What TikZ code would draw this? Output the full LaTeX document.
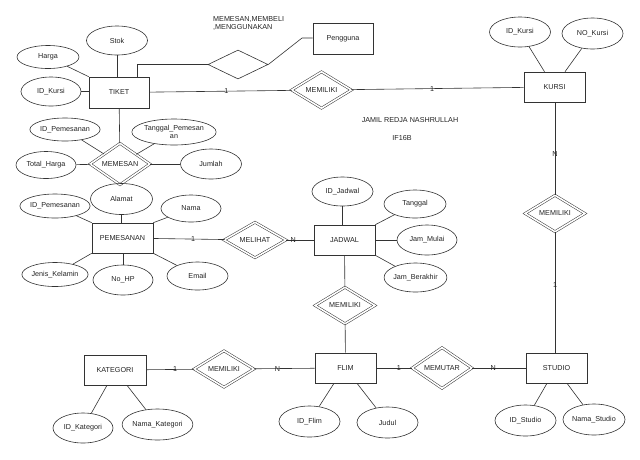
\documentclass[tikz,border=0pt]{standalone}
\usepackage{fontspec}
\setmainfont{Liberation Sans}
\usetikzlibrary{shapes.geometric}
\definecolor{ln}{HTML}{333333}
\definecolor{tx}{HTML}{222222}
\tikzset{
  every node/.style={font=\fontsize{7.2}{8.6}\selectfont, text=tx},
  ent/.style={draw=ln, line width=0.6pt, rectangle, minimum width=61pt, minimum height=30pt, inner sep=0pt},
  attr/.style={draw=ln, line width=0.6pt, ellipse, minimum width=61pt, minimum height=29pt, inner sep=0pt},
  rel/.style={draw=ln, line width=0.6pt, diamond, minimum width=60pt, minimum height=30pt, inner sep=0pt},
  drel/.style={rel, double=white, double distance=1.6pt, line width=0.5pt},
  conn/.style={draw=ln, line width=0.6pt},
  card/.style={inner sep=0.5pt}
}
\begin{document}
\begin{tikzpicture}[x=1pt,y=-1pt]
\useasboundingbox (0,0) rectangle (640,459);
% entities
\node[ent, minimum height=31pt, minimum width=60pt] (tiket) at (119,92.5) {TIKET};
\node[ent, minimum height=31pt, minimum width=60pt] (pengguna) at (343,38.5) {Pengguna};
\node[ent] (kursi) at (554.5,87) {KURSI};
\node[ent] (pemesanan) at (122.5,238) {PEMESANAN};
\node[ent] (jadwal) at (344.5,240) {JADWAL};
\node[ent, minimum width=62pt] (kategori) at (115,370) {KATEGORI};
\node[ent] (flim) at (345.5,368) {FLIM};
\node[ent] (studio) at (556.5,368) {STUDIO};
% relationships
\node[rel, minimum height=29pt] (beli) at (238,64.5) {};
\node[drel] (mem1) at (321.5,90) {MEMILIKI};
\node[drel] (memesan) at (120,164) {MEMESAN};
\node[drel, minimum height=29pt] (mem2) at (555,213.5) {MEMILIKI};
\node[drel, minimum width=62pt] (melihat) at (255,240) {MELIHAT};
\node[drel, minimum height=29pt] (mem3) at (345,305.5) {MEMILIKI};
\node[drel] (mem4) at (224,369) {MEMILIKI};
\node[drel] (memutar) at (442,368) {MEMUTAR};
% attributes
\node[attr] (stok) at (117,40.5) {Stok};
\node[attr, minimum width=62pt, minimum height=23pt] (harga) at (48,57) {Harga};
\node[attr, minimum width=60pt] (idkursi1) at (51,91.5) {ID\_Kursi};
\node[attr, minimum height=23pt] (idpem1) at (65,129.5) {ID\_Pemesanan};
\node[attr, minimum height=26pt, align=center, font=\fontsize{7.2}{7.6}\selectfont] (tglpem) at (174,132) {Tanggal\_Pemesan\\an};
\node[attr, minimum width=60pt, minimum height=27pt] (totalharga) at (46,165) {Total\_Harga};
\node[attr, minimum height=30pt] (jumlah) at (211,164) {Jumlah};
\node[attr, minimum height=30pt] (idkursi2) at (520,32) {ID\_Kursi};
\node[attr, minimum height=31pt] (nokursi) at (592.5,33.5) {NO\_Kursi};
\node[attr, minimum width=60pt, minimum height=24pt] (idpem2) at (55,206) {ID\_Pemesanan};
\node[attr, minimum width=62pt, minimum height=31pt] (alamat) at (121.5,199) {Alamat};
\node[attr, minimum width=60pt, minimum height=27pt] (nama) at (191,208.5) {Nama};
\node[attr, minimum width=60pt, minimum height=24pt] (jenis) at (55,274.5) {Jenis\_Kelamin};
\node[attr, minimum width=60pt, minimum height=30pt] (nohp) at (123,280) {No\_HP};
\node[attr, minimum height=28pt] (email) at (197.5,276) {Email};
\node[attr] (idjadwal) at (342.5,191.5) {ID\_Jadwal};
\node[attr, minimum width=62pt, minimum height=28pt] (tanggal) at (415,204) {Tanggal};
\node[attr, minimum width=60pt, minimum height=30pt] (jammulai) at (427,240) {Jam\_Mulai};
\node[attr] (jamberakhir) at (415.5,277.5) {Jam\_Berakhir};
\node[attr, minimum width=60pt, minimum height=30pt] (idkategori) at (83,428) {ID\_Kategori};
\node[attr, minimum height=31pt] (namakategori) at (157.5,424.5) {Nama\_Kategori};
\node[attr, minimum height=31pt] (idflim) at (309.5,421.5) {ID\_Flim};
\node[attr, minimum height=31pt] (judul) at (387.5,422.5) {Judul};
\node[attr, minimum height=31pt] (idstudio) at (525.5,420.5) {ID\_Studio};
\node[attr, minimum width=62pt, minimum height=31pt] (namastudio) at (594,419.5) {Nama\_Studio};
% free texts
\node[anchor=north west, align=left, inner sep=0pt, font=\fontsize{7.2}{8.4}\selectfont] (note) at (213,16) {MEMESAN,MEMBELI\\,MENGGUNAKAN};
\node (author) at (410,120) {JAMIL REDJA NASHRULLAH};
\node (kelas) at (402,138) {IF16B};
\coordinate (bend) at (302,38);
% TIKET connectors
\draw[conn] (stok.south) -- (stok.south |- tiket.north);
\draw[conn] (harga) -- (tiket.north west);
\draw[conn] (idkursi1.east) -- (idkursi1.east -| tiket.west);
\draw[conn] (tiket) -- (memesan);
\draw[conn] (idpem1) -- (memesan);
\draw[conn] (tglpem) -- (memesan);
\draw[conn] (totalharga) -- (memesan);
\draw[conn] (jumlah) -- (memesan);
\draw[conn] ([xshift=18pt]tiket.north) |- (beli.west);
\draw[conn] (beli.east) -- (bend) -- (bend -| pengguna.west);
\draw[conn] (tiket) -- node[card, pos=0.54]{1} (mem1);
\draw[conn] (mem1) -- node[card, pos=0.47]{1} (kursi);
% KURSI
\draw[conn] (idkursi2) -- ([xshift=-10pt]kursi.north);
\draw[conn] (nokursi) -- ([xshift=10.5pt]kursi.north);
\draw[conn] (kursi.south -| mem2.north) -- node[card, pos=0.56]{N} (mem2.north);
\draw[conn] (mem2.south) -- node[card, pos=0.44]{1} (mem2.south |- studio.north);
% PEMESANAN
\draw[conn] (idpem2) -- (pemesanan.north west);
\draw[conn] (alamat) -- (alamat |- pemesanan.north);
\draw[conn] (nama) -- (pemesanan.north east);
\draw[conn] (jenis) -- (pemesanan.south west);
\draw[conn] (nohp) -- (nohp |- pemesanan.south);
\draw[conn] (email) -- (pemesanan.south east);
\draw[conn] (pemesanan) -- node[card, pos=0.56]{1} (melihat);
\draw[conn] (melihat) -- node[card, pos=0.25]{N} (jadwal);
% JADWAL
\draw[conn] (idjadwal) -- (idjadwal |- jadwal.north);
\draw[conn] (tanggal) -- (jadwal.north east);
\draw[conn] (jammulai) -- (jadwal.east);
\draw[conn] (jamberakhir) -- (jadwal.south east);
\draw[conn] (jadwal) -- (mem3);
\draw[conn] (mem3) -- (flim);
% bottom row
\draw[conn] (kategori) -- node[card, pos=0.6]{1} (mem4);
\draw[conn] (mem4) -- node[card, pos=0.39]{N} (flim);
\draw[conn] (flim) -- node[card, pos=0.64]{1} (memutar);
\draw[conn] (memutar) -- node[card, pos=0.39]{N} (studio);
\draw[conn] (idkategori) -- ([xshift=-8pt]kategori.south);
\draw[conn] (namakategori) -- ([xshift=12pt]kategori.south);
\draw[conn] (idflim) -- ([xshift=-11.5pt]flim.south);
\draw[conn] (judul) -- ([xshift=11.5pt]flim.south);
\draw[conn] (idstudio) -- ([xshift=-9.5pt]studio.south);
\draw[conn] (namastudio) -- ([xshift=10.5pt]studio.south);
\end{tikzpicture}
\end{document}
